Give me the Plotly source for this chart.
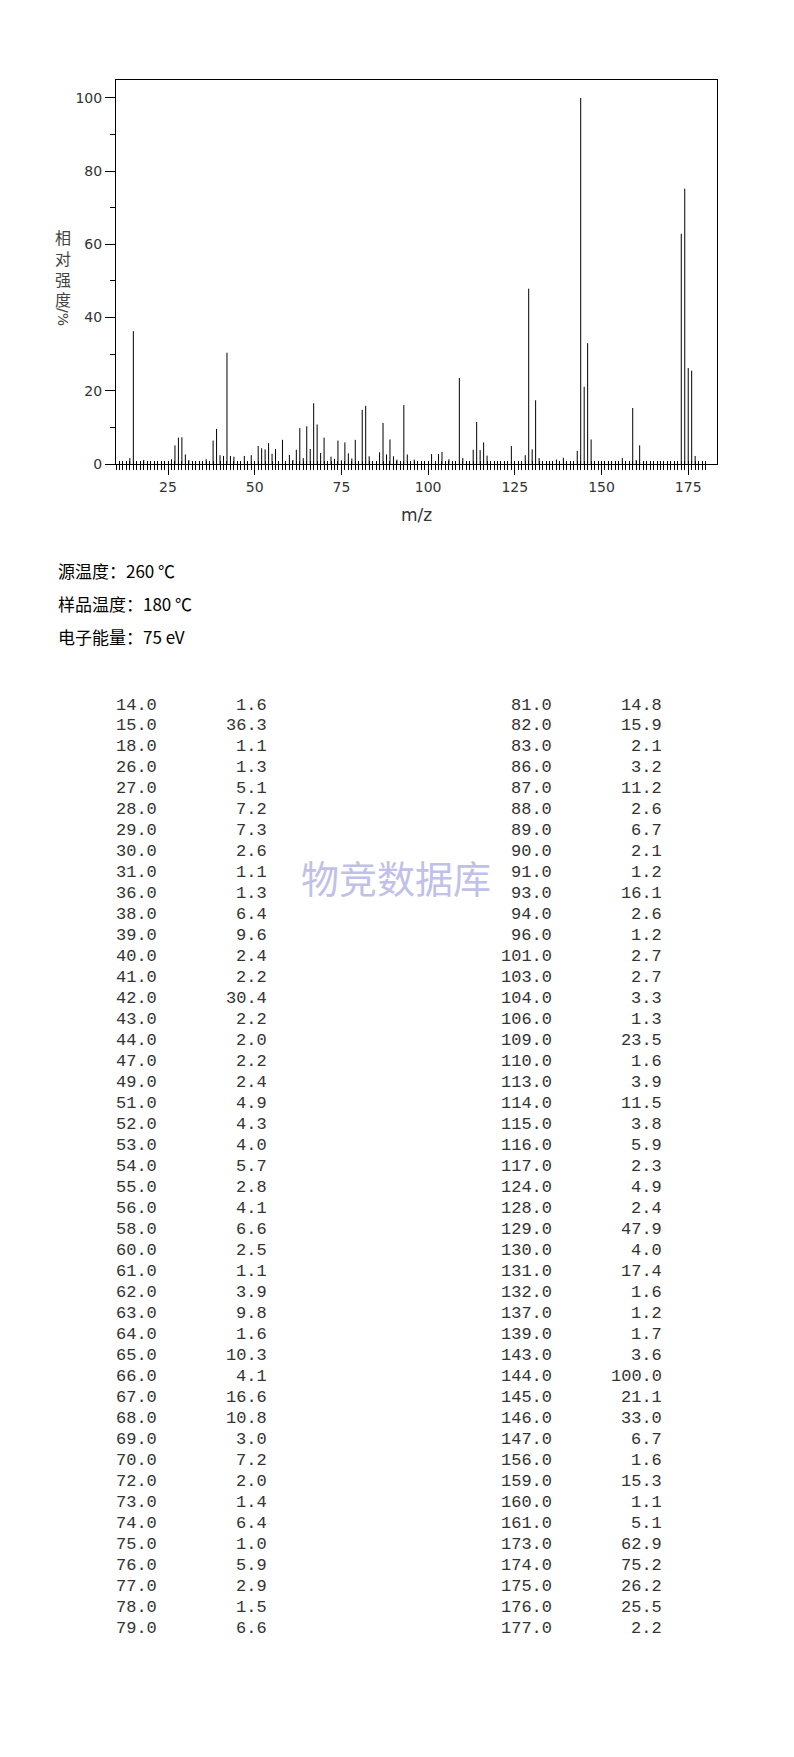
import plotly.graph_objects as go

# ---- data (m/z, relative intensity %) ----
mz_left = [14.0, 15.0, 18.0, 26.0, 27.0, 28.0, 29.0, 30.0, 31.0, 36.0, 38.0, 39.0, 40.0, 41.0, 42.0,
           43.0, 44.0, 47.0, 49.0, 51.0, 52.0, 53.0, 54.0, 55.0, 56.0, 58.0, 60.0, 61.0, 62.0, 63.0,
           64.0, 65.0, 66.0, 67.0, 68.0, 69.0, 70.0, 72.0, 73.0, 74.0, 75.0, 76.0, 77.0, 78.0, 79.0]
int_left = [1.6, 36.3, 1.1, 1.3, 5.1, 7.2, 7.3, 2.6, 1.1, 1.3, 6.4, 9.6, 2.4, 2.2, 30.4,
            2.2, 2.0, 2.2, 2.4, 4.9, 4.3, 4.0, 5.7, 2.8, 4.1, 6.6, 2.5, 1.1, 3.9, 9.8,
            1.6, 10.3, 4.1, 16.6, 10.8, 3.0, 7.2, 2.0, 1.4, 6.4, 1.0, 5.9, 2.9, 1.5, 6.6]
mz_right = [81.0, 82.0, 83.0, 86.0, 87.0, 88.0, 89.0, 90.0, 91.0, 93.0, 94.0, 96.0, 101.0, 103.0, 104.0,
            106.0, 109.0, 110.0, 113.0, 114.0, 115.0, 116.0, 117.0, 124.0, 128.0, 129.0, 130.0, 131.0, 132.0, 137.0,
            139.0, 143.0, 144.0, 145.0, 146.0, 147.0, 156.0, 159.0, 160.0, 161.0, 173.0, 174.0, 175.0, 176.0, 177.0]
int_right = [14.8, 15.9, 2.1, 3.2, 11.2, 2.6, 6.7, 2.1, 1.2, 16.1, 2.6, 1.2, 2.7, 2.7, 3.3,
             1.3, 23.5, 1.6, 3.9, 11.5, 3.8, 5.9, 2.3, 4.9, 2.4, 47.9, 4.0, 17.4, 1.6, 1.2,
             1.7, 3.6, 100.0, 21.1, 33.0, 6.7, 1.6, 15.3, 1.1, 5.1, 62.9, 75.2, 26.2, 25.5, 2.2]
x_ticks = [25, 50, 75, 100, 125, 150, 175]
y_ticks = [0, 20, 40, 60, 80, 100]
info_lines = ["源温度：260 ℃", "样品温度：180 ℃", "电子能量：75 eV"]
y_title_chars = ["相", "对", "强", "度"]
watermark = "物竞数据库"

OFF = 8                      # default body margin of the html page
W, H = 794 - OFF, 1757 - OFF
L, R, T, B = 116, 717, 80, 464  # plot area in page pixels


def px(x):
    return (x - L) / (R - L)


def py(y):
    return (B - y) / (B - T)


mz_all = mz_left + mz_right
int_all = int_left + int_right
sx, sy = [], []
for m, v in zip(mz_all, int_all):
    sx += [m, m, None]
    sy += [0, v, None]

fig = go.Figure()
fig.add_trace(go.Scatter(x=sx, y=sy, mode="lines", line=dict(color="black", width=1),
                         hoverinfo="skip", showlegend=False))
fig.add_trace(go.Scatter(x=[10], y=[0], xaxis="x2", mode="markers", marker=dict(opacity=0),
                         showlegend=False, hoverinfo="skip"))

tickfont = dict(family="DejaVu Sans", size=14, color="#333")
minor_vals = list(range(10, 181))

fig.update_layout(
    width=W, height=H,
    margin=dict(l=L - OFF, r=W - (R - OFF), t=T - OFF, b=H - (B - OFF), pad=0),
    paper_bgcolor="white", plot_bgcolor="white",
    xaxis=dict(range=[10, 183.3], tickmode="array", tickvals=x_ticks, ticks="outside", ticklen=10,
               tickcolor="black", tickwidth=1, showline=True, linecolor="black", linewidth=1,
               mirror=True, showgrid=False, zeroline=False, tickfont=tickfont,
               minor=dict(tickmode="array", tickvals=minor_vals, ticks="outside", ticklen=5,
                          tickcolor="black", tickwidth=1, showgrid=False),
               title=dict(text="m/z", font=dict(family="DejaVu Sans", size=17, color="#333"), standoff=15)),
    xaxis2=dict(range=[10, 183.3], overlaying="x", anchor="y", side="bottom", tickmode="array",
                tickvals=minor_vals, ticks="inside", ticklen=3, tickcolor="black", tickwidth=1,
                showticklabels=False, showline=False, showgrid=False, zeroline=False),
    yaxis=dict(range=[0, 104.9], tickmode="array", tickvals=y_ticks, ticks="outside", ticklen=10,
               tickcolor="black", tickwidth=1, showline=True, linecolor="black", linewidth=1,
               mirror=True, showgrid=False, zeroline=False, tickfont=tickfont,
               minor=dict(tickmode="array", tickvals=[10, 30, 50, 70, 90], ticks="outside", ticklen=5,
                          tickcolor="black", tickwidth=1, showgrid=False)),
)

ann = []
# y-axis title (stacked characters)
ann.append(dict(text="<br>".join(y_title_chars), x=px(63), y=py(268), xref="paper", yref="paper",
                showarrow=False, xanchor="center", yanchor="middle",
                font=dict(family="Noto Sans CJK SC", size=16, color="#444")))
ann.append(dict(text="/%", x=px(63), y=py(317), xref="paper", yref="paper", textangle=90,
                showarrow=False, xanchor="center", yanchor="middle",
                font=dict(family="DejaVu Sans", size=14, color="#444")))

# info lines
for i, t in enumerate(info_lines):
    ann.append(dict(text=t, x=px(56), y=py(570 + i * 33), xref="paper", yref="paper",
                    showarrow=False, xanchor="left", yanchor="middle",
                    font=dict(family="Noto Sans CJK SC", size=17, color="black")))

# table
row0, dy = 705, 20.98
mono = dict(family="Liberation Mono", size=17, color="#333")
for i, (m, v) in enumerate(zip(mz_left, int_left)):
    yy = py(row0 + i * dy)
    ann.append(dict(text=f"{m:.1f}", x=px(159), y=yy, xref="paper", yref="paper", showarrow=False,
                    xanchor="right", yanchor="middle", font=mono))
    ann.append(dict(text=f"{v:.1f}", x=px(269), y=yy, xref="paper", yref="paper", showarrow=False,
                    xanchor="right", yanchor="middle", font=mono))
for i, (m, v) in enumerate(zip(mz_right, int_right)):
    yy = py(row0 + i * dy)
    ann.append(dict(text=f"{m:.1f}", x=px(554), y=yy, xref="paper", yref="paper", showarrow=False,
                    xanchor="right", yanchor="middle", font=mono))
    ann.append(dict(text=f"{v:.1f}", x=px(664), y=yy, xref="paper", yref="paper", showarrow=False,
                    xanchor="right", yanchor="middle", font=mono))

# watermark
ann.append(dict(text=watermark, x=px(396), y=py(877), xref="paper", yref="paper", showarrow=False,
                xanchor="center", yanchor="middle",
                font=dict(family="Noto Sans CJK SC", size=38, color="rgb(192,192,232)")))

fig.update_layout(annotations=ann)
fig.write_html("out.html")
